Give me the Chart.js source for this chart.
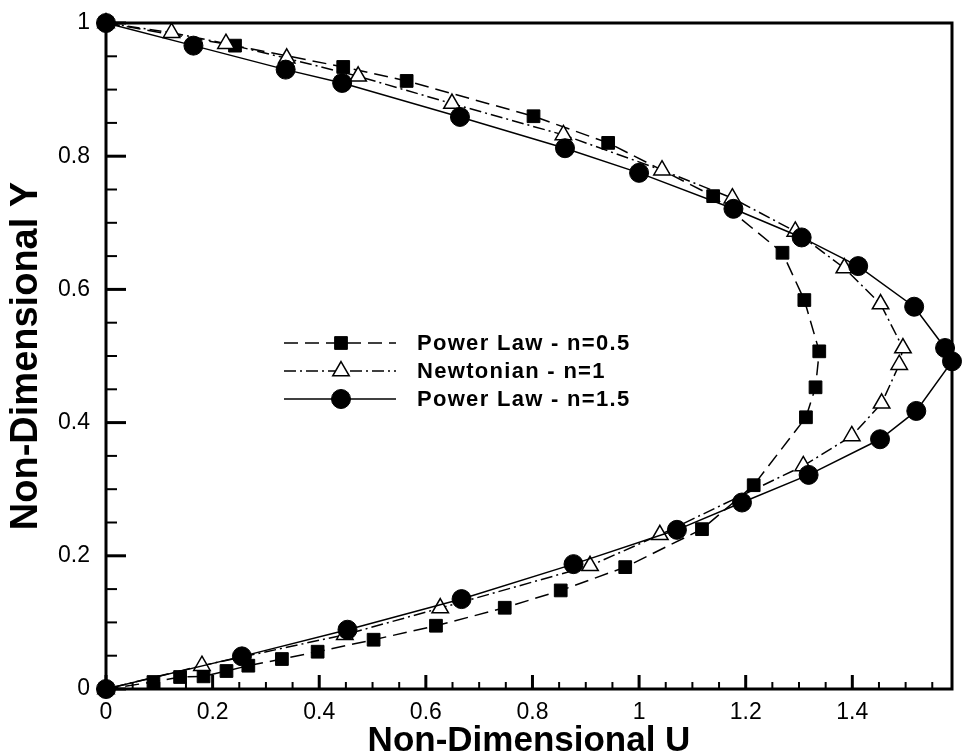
<!DOCTYPE html>
<html>
<head>
<meta charset="utf-8">
<script src="https://cdn.jsdelivr.net/npm/chart.js@4.4.1/dist/chart.umd.min.js"></script>
<style>
  html, body { margin: 0; padding: 0; background: #fff; }
  #wrap { width: 969px; height: 755px; position: relative; }
</style>
</head>
<body>
<div id="wrap"><canvas id="profile-chart"></canvas></div>
<script>
// Velocity profiles, listed from the top wall down
const N05_U = [0, 0.242, 0.445, 0.564, 0.802, 0.942, 1.139, 1.269, 1.310, 1.338, 1.331, 1.313, 1.215, 1.118, 0.974, 0.853, 0.748, 0.619, 0.502, 0.397, 0.330, 0.267, 0.226, 0.183, 0.139, 0.089, 0];
const N05_Y = [1, 0.966, 0.934, 0.913, 0.860, 0.820, 0.740, 0.655, 0.584, 0.507, 0.453, 0.408, 0.306, 0.240, 0.183, 0.148, 0.122, 0.095, 0.074, 0.056, 0.045, 0.035, 0.027, 0.019, 0.018, 0.0105, 0];

const N10_U = [0, 0.123, 0.225, 0.339, 0.473, 0.649, 0.858, 1.043, 1.175, 1.293, 1.385, 1.453, 1.495, 1.488, 1.455, 1.399, 1.308, 1.039, 0.908, 0.627, 0.448, 0.180, 0];
const N10_Y = [1, 0.9855, 0.969, 0.947, 0.920, 0.879, 0.832, 0.779, 0.737, 0.687, 0.632, 0.578, 0.512, 0.487, 0.429, 0.380, 0.335, 0.2315, 0.185, 0.1215, 0.0815, 0.035, 0];

const N15_U = [0, 0.164, 0.337, 0.443, 0.664, 0.861, 1.000, 1.177, 1.305, 1.411, 1.516, 1.574, 1.587, 1.520, 1.452, 1.318, 1.193, 1.071, 0.877, 0.667, 0.453, 0.255, 0];
const N15_Y = [1, 0.966, 0.930, 0.910, 0.859, 0.812, 0.775, 0.721, 0.678, 0.635, 0.574, 0.512, 0.492, 0.4175, 0.375, 0.3215, 0.280, 0.239, 0.1875, 0.135, 0.089, 0.049, 0];

const SERIES_LABELS = ['Power Law - n=0.5', 'Newtonian - n=1', 'Power Law - n=1.5'];
const X_TICK_LABELS = ['0', '0.2', '0.4', '0.6', '0.8', '1', '1.2', '1.4'];
const Y_TICK_LABELS = ['0', '0.2', '0.4', '0.6', '0.8', '1'];
const X_MAX = 1.587;
const MINOR_STEP = 0.05;

const FONT = "'Liberation Sans', Arial, sans-serif";

function toPoints(us, ys) {
  return us.map((u, i) => ({ x: u, y: ys[i] }));
}

function labelFor(list, v) {
  const hit = list.find((t) => Math.abs(parseFloat(t) - v) < 1e-6);
  return hit === undefined ? '' : hit;
}

// Tecplot style frame with inward ticks on the left and bottom axes
const framePlugin = {
  id: 'frame',
  afterDatasetsDraw(chart) {
    const { ctx, chartArea: a, scales } = chart;
    ctx.save();
    ctx.strokeStyle = '#000';
    ctx.lineCap = 'butt';

    for (let i = 0; i * MINOR_STEP <= X_MAX + 1e-9; i++) {
      const px = scales.x.getPixelForValue(i * MINOR_STEP);
      const major = i % 4 === 0;
      ctx.lineWidth = major ? 3 : 2;
      ctx.beginPath();
      ctx.moveTo(px, a.bottom);
      ctx.lineTo(px, a.bottom - (major ? 14 : 7));
      ctx.stroke();
    }
    for (let i = 0; i * MINOR_STEP <= 1 + 1e-9; i++) {
      const py = scales.y.getPixelForValue(i * MINOR_STEP);
      const major = i % 4 === 0;
      ctx.lineWidth = major ? 3 : 2;
      ctx.beginPath();
      ctx.moveTo(a.left, py);
      ctx.lineTo(a.left + (major ? 20 : 11), py);
      ctx.stroke();
    }

    ctx.lineWidth = 3;
    ctx.strokeRect(a.left, a.top, a.right - a.left, a.bottom - a.top);
    ctx.restore();
  },
};

// Legend with line sample + marker, placed inside the plot
const legendPlugin = {
  id: 'lineLegend',
  afterDraw(chart) {
    const { ctx } = chart;
    const x0 = 284, x1 = 396, xm = 341, xt = 417;
    const rows = [343, 371, 399];
    ctx.save();
    chart.data.datasets.forEach((ds, i) => {
      const y = rows[i];
      ctx.strokeStyle = '#000';
      ctx.lineWidth = ds.borderWidth;
      ctx.setLineDash(ds.borderDash || []);
      ctx.beginPath();
      ctx.moveTo(x0, y);
      ctx.lineTo(x1, y);
      ctx.stroke();
      ctx.setLineDash([]);
      ctx.fillStyle = ds.pointBackgroundColor;
      ctx.strokeStyle = ds.pointBorderColor;
      ctx.lineWidth = ds.pointBorderWidth;
      Chart.helpers.drawPoint(ctx, {
        pointStyle: ds.pointStyle,
        rotation: 0,
        radius: ds.pointRadius,
        borderWidth: ds.pointBorderWidth,
      }, xm, y);
      ctx.fillStyle = '#000';
      ctx.font = 'bold 22px ' + FONT;
      ctx.letterSpacing = '1.3px';
      ctx.textBaseline = 'middle';
      ctx.textAlign = 'left';
      ctx.fillText(ds.label, xt, y + 1);
    });
    ctx.restore();
  },
};

const datasets = [
  {
    label: SERIES_LABELS[0],
    data: toPoints(N05_U, N05_Y),
    borderColor: '#000',
    borderWidth: 1.5,
    borderDash: [14, 7],
    pointStyle: 'rect',
    pointRadius: 9,
    pointBackgroundColor: '#000',
    pointBorderColor: '#000',
    pointBorderWidth: 1,
    order: 3,
  },
  {
    label: SERIES_LABELS[1],
    data: toPoints(N10_U, N10_Y),
    borderColor: '#000',
    borderWidth: 1.5,
    borderDash: [12, 4, 2, 4],
    pointStyle: 'triangle',
    pointRadius: 9.5,
    pointBackgroundColor: '#fff',
    pointBorderColor: '#000',
    pointBorderWidth: 1.5,
    order: 2,
  },
  {
    label: SERIES_LABELS[2],
    data: toPoints(N15_U, N15_Y),
    borderColor: '#000',
    borderWidth: 1.5,
    pointStyle: 'circle',
    pointRadius: 9.5,
    pointBackgroundColor: '#000',
    pointBorderColor: '#000',
    pointBorderWidth: 1,
    order: 1,
  },
];

new Chart(document.getElementById('profile-chart'), {
  type: 'scatter',
  data: { datasets },
  plugins: [framePlugin, legendPlugin],
  options: {
    responsive: true,
    maintainAspectRatio: false,
    animation: false,
    devicePixelRatio: 1,
    layout: { padding: { top: 23, right: 17, left: 0, bottom: 0 } },
    plugins: {
      legend: { display: false },
      tooltip: { enabled: false },
    },
    elements: {
      line: { tension: 0, fill: false },
      point: { hoverRadius: 9.5 },
    },
    datasets: { scatter: { showLine: true, clip: false } },
    scales: {
      x: {
        type: 'linear',
        min: 0,
        max: X_MAX,
        afterBuildTicks(scale) {
          scale.ticks = X_TICK_LABELS.map((t) => ({ value: parseFloat(t) }));
        },
        afterFit(scale) { scale.height = 66; },
        grid: { display: false, drawTicks: false },
        border: { display: false },
        ticks: {
          padding: 10,
          color: '#000',
          maxRotation: 0,
          autoSkip: false,
          font: { family: FONT, size: 23 },
          callback: (v) => labelFor(X_TICK_LABELS, v),
        },
        title: {
          display: true,
          text: 'Non-Dimensional U',
          color: '#000',
          padding: 0,
          font: { family: FONT, size: 35, weight: 'bold', lineHeight: 0.8 },
        },
      },
      y: {
        type: 'linear',
        min: 0,
        max: 1,
        afterBuildTicks(scale) {
          scale.ticks = Y_TICK_LABELS.map((t) => ({ value: parseFloat(t) }));
        },
        afterFit(scale) {
          scale.width = 106;
          // labels may overhang the frame, like the original
          scale.paddingTop = 0;
          scale.paddingBottom = 0;
        },
        grid: { display: false, drawTicks: false },
        border: { display: false },
        ticks: {
          padding: 16,
          color: '#000',
          autoSkip: false,
          font: { family: FONT, size: 23 },
          callback: (v) => labelFor(Y_TICK_LABELS, v),
        },
        title: {
          display: true,
          text: 'Non-Dimensional Y',
          color: '#000',
          padding: { top: 11, bottom: 0 },
          font: { family: FONT, size: 38, weight: 'bold', lineHeight: 0.8 },
        },
      },
    },
  },
});
</script>
</body>
</html>
